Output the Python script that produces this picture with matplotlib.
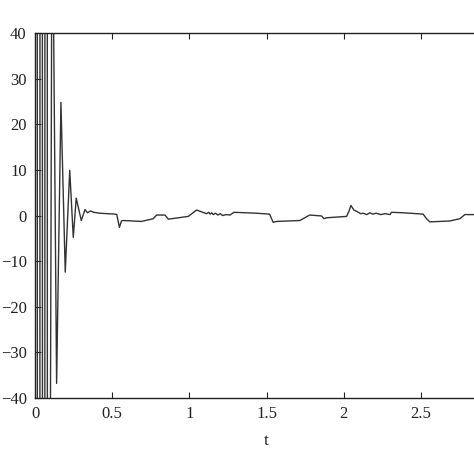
import matplotlib
matplotlib.use("Agg")
import matplotlib.pyplot as plt

# key points of the signal (time, value)
t_vals = [0.000, 0.000, 0.014, 0.016, 0.031, 0.033, 0.047, 0.049, 0.063, 0.065,
          0.079, 0.081, 0.095, 0.112, 0.116, 0.140, 0.168, 0.196, 0.225, 0.248,
          0.267, 0.300, 0.324, 0.340, 0.360, 0.380, 0.420, 0.520, 0.530, 0.547,
          0.560, 0.572, 0.690, 0.766, 0.788, 0.842, 0.864, 0.993, 1.047, 1.112,
          1.125, 1.135, 1.145, 1.155, 1.170, 1.185, 1.200, 1.215, 1.240, 1.263,
          1.290, 1.436, 1.520, 1.543, 1.565, 1.716, 1.780, 1.857, 1.872, 1.889,
          2.019, 2.036, 2.047, 2.066, 2.090, 2.110, 2.126, 2.150, 2.170, 2.190,
          2.210, 2.240, 2.270, 2.300, 2.310, 2.385, 2.515, 2.537, 2.558, 2.688,
          2.753, 2.785, 2.843, 3.000]
y_vals = [-200, 200, 200, -200, -200, 200, 200, -200, -200, 200,
          200, -200, -100, 90, 60, -36.8, 24.8, -12.4, 9.9, -4.8,
          3.8, -1.1, 1.3, 0.6, 1.0, 0.7, 0.5, 0.3, 0.2, -2.6,
          -1.2, -1.1, -1.3, -0.7, 0.1, 0.1, -0.8, -0.2, 1.2, 0.4,
          0.7, 0.3, 0.6, 0.2, 0.5, 0.1, 0.4, 0.0, 0.2, 0.1,
          0.7, 0.5, 0.3, -1.5, -1.3, -1.1, 0.1, -0.1, -0.7, -0.5,
          -0.2, 1.1, 2.2, 1.2, 0.8, 0.4, 0.5, 0.2, 0.6, 0.3,
          0.5, 0.2, 0.4, 0.2, 0.7, 0.6, 0.3, -0.7, -1.4, -1.2,
          -0.7, 0.2, 0.2, 0.2]

x_ticks = [0, 0.5, 1, 1.5, 2, 2.5]
x_ticklabels = ["0", "0.5", "1", "1.5", "2", "2.5"]
y_ticks = [-40, -30, -20, -10, 0, 10, 20, 30, 40]

plt.rcParams['font.family'] = ['Liberation Serif', 'DejaVu Serif']
fig = plt.figure(figsize=(4.74, 4.74), dpi=100)
ax = fig.add_axes([35/474, 76/474, 463/474, 365/474])
ax.plot(t_vals, y_vals, color="#333333", lw=1.0)
ax.set_xlim(0, 3)
ax.set_ylim(-40, 40)
ax.set_xticks(x_ticks)
ax.set_xticklabels(x_ticklabels)
ax.set_yticks(y_ticks)
ax.tick_params(direction="in", top=True, right=True, length=4, width=0.8,
               labelsize=12, pad=6, colors="#222222")
for s in ax.spines.values():
    s.set_color("#222222")
    s.set_linewidth(1.0)
ax.set_xlabel("t", fontsize=12.5, labelpad=8, color="#222222")
fig.savefig("out.png", dpi=100)
